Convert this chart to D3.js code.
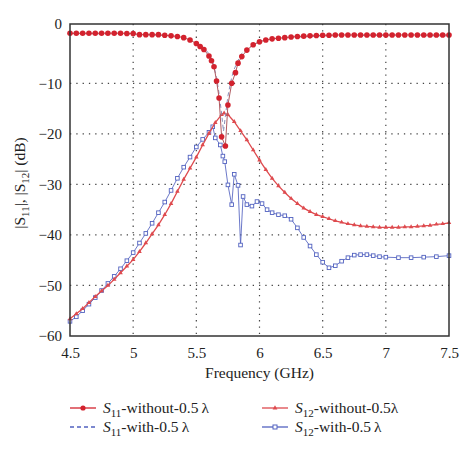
<!DOCTYPE html>
<html>
<head>
<meta charset="utf-8">
<script src="https://cdn.jsdelivr.net/npm/d3@7"></script>
<style>
  body { margin: 0; background: #fff; }
  svg text { font-family: "Liberation Serif", "DejaVu Serif", serif; fill: #222; }
</style>
</head>
<body>
<svg id="chart" width="474" height="451"></svg>
<script>
// tick labels
const xTicks = [4.5, 5, 5.5, 6, 6.5, 7, 7.5];
const yTicks = [0, -10, -20, -30, -40, -50, -60];

// S11 without 0.5 lambda
const s11WoFreq = [4.5, 4.55, 4.6, 4.65, 4.7, 4.75, 4.8, 4.85, 4.9, 4.95, 5.0, 5.05, 5.1, 5.15, 5.2, 5.25, 5.3, 5.35, 5.4, 5.45, 5.5, 5.53, 5.56, 5.6, 5.62, 5.64, 5.66, 5.68, 5.7, 5.73, 5.75, 5.78, 5.81, 5.83, 5.86, 5.9, 5.95, 6.0, 6.05, 6.1, 6.15, 6.2, 6.25, 6.3, 6.35, 6.4, 6.45, 6.5, 6.55, 6.6, 6.65, 6.7, 6.75, 6.8, 6.85, 6.9, 6.95, 7.0, 7.05, 7.1, 7.15, 7.2, 7.25, 7.3, 7.35, 7.4, 7.45, 7.5];
const s11WoVal = [-1.55, -1.55, -1.55, -1.55, -1.55, -1.55, -1.55, -1.55, -1.55, -1.6, -1.6, -1.8, -1.8, -1.8, -1.8, -1.9, -2.0, -2.1, -2.3, -2.7, -3.3, -3.8, -4.3, -5.4, -6.2, -7.2, -9.6, -12.9, -20.6, -22.4, -14.3, -10.0, -8.2, -6.6, -5.5, -4.4, -3.5, -3.0, -2.7, -2.5, -2.4, -2.3, -2.2, -2.1, -2.05, -2.0, -1.95, -1.9, -1.9, -1.85, -1.85, -1.85, -1.85, -1.85, -1.85, -1.85, -1.85, -1.85, -1.85, -1.85, -1.85, -1.85, -1.85, -1.85, -1.85, -1.85, -1.85, -1.85];

// S11 with 0.5 lambda
const s11WiFreq = [4.5, 5.0, 5.3, 5.4, 5.5, 5.55, 5.6, 5.63, 5.66, 5.68, 5.7, 5.715, 5.73, 5.75, 5.78, 5.8, 5.85, 5.9, 6.0, 6.2, 6.5, 7.0, 7.5];
const s11WiVal = [-1.6, -1.7, -2.0, -2.4, -3.2, -3.8, -5.0, -6.4, -9.0, -12.0, -16.0, -19.5, -16.5, -12.5, -9.0, -7.6, -5.2, -4.2, -2.9, -2.3, -2.0, -1.9, -2.0];

// S12 without 0.5 lambda
const s12WoFreq = [4.5, 4.55, 4.6, 4.65, 4.7, 4.75, 4.8, 4.85, 4.9, 4.95, 5.0, 5.05, 5.1, 5.15, 5.2, 5.25, 5.3, 5.35, 5.4, 5.45, 5.5, 5.55, 5.6, 5.65, 5.7, 5.72, 5.75, 5.8, 5.85, 5.9, 5.95, 6.0, 6.05, 6.1, 6.15, 6.2, 6.25, 6.3, 6.35, 6.4, 6.45, 6.5, 6.55, 6.6, 6.65, 6.7, 6.75, 6.8, 6.85, 6.9, 6.95, 7.0, 7.05, 7.1, 7.15, 7.2, 7.25, 7.3, 7.35, 7.4, 7.45, 7.5];
const s12WoVal = [-56.6, -55.6, -54.6, -53.4, -52.2, -51.1, -50.0, -48.8, -47.5, -46.2, -44.9, -43.3, -41.6, -39.8, -38.0, -36.0, -33.8, -31.4, -29.0, -26.8, -24.6, -22.2, -19.9, -17.8, -16.2, -15.9, -16.2, -17.6, -19.4, -21.2, -23.2, -25.2, -27.1, -28.8, -30.3, -31.6, -32.8, -33.8, -34.7, -35.4, -36.0, -36.4, -36.8, -37.2, -37.5, -37.8, -38.0, -38.2, -38.3, -38.4, -38.5, -38.5, -38.5, -38.5, -38.4, -38.4, -38.3, -38.2, -38.1, -37.9, -37.8, -37.6];

// S12 with 0.5 lambda
const s12WiFreq = [4.5, 4.55, 4.6, 4.65, 4.7, 4.75, 4.8, 4.85, 4.9, 4.95, 5.0, 5.05, 5.1, 5.15, 5.2, 5.25, 5.3, 5.35, 5.4, 5.45, 5.5, 5.55, 5.6, 5.63, 5.65, 5.69, 5.71, 5.725, 5.75, 5.78, 5.8, 5.83, 5.85, 5.87, 5.9, 5.94, 5.98, 6.02, 6.06, 6.1, 6.15, 6.2, 6.25, 6.3, 6.35, 6.4, 6.45, 6.5, 6.55, 6.6, 6.65, 6.7, 6.75, 6.8, 6.85, 6.9, 6.95, 7.0, 7.1, 7.2, 7.3, 7.4, 7.5];
const s12WiVal = [-57.1, -56.2, -55.0, -53.7, -52.4, -51.0, -49.6, -48.2, -46.7, -45.1, -43.5, -41.6, -39.7, -37.7, -35.6, -33.5, -31.2, -28.8, -26.6, -24.6, -22.6, -21.1, -19.7, -18.6, -20.8, -22.2, -24.4, -25.5, -30.1, -34.0, -28.0, -30.2, -42.0, -32.4, -34.0, -34.3, -33.4, -33.8, -35.0, -35.6, -36.0, -36.2, -36.9, -38.6, -40.5, -42.2, -43.9, -45.4, -46.5, -46.1, -45.2, -44.5, -44.0, -43.9, -43.9, -44.1, -44.3, -44.4, -44.5, -44.5, -44.4, -44.3, -44.1];

const svg = d3.select('#chart');
const margin = {top: 24, right: 25, bottom: 115, left: 70};
const W = 474, H = 451;

const x = d3.scaleLinear().domain([4.5, 7.5]).range([margin.left, W - margin.right]);
// the picture's 0..-10 band is a little taller than the rest
const y = d3.scaleLinear().domain([0, -10, -60]).range([margin.top, 83.3, H - margin.bottom]);

const red = '#d3222e';
const red2 = '#de4a4e';
const blue = '#5262c0';

// grid
const grid = svg.append('g');
grid.selectAll('.vg').data(xTicks.slice(1, -1)).enter().append('line')
  .attr('x1', d => x(d)).attr('x2', d => x(d))
  .attr('y1', y(0)).attr('y2', y(-60))
  .attr('stroke', '#444').attr('stroke-width', 1.2).attr('stroke-dasharray', '1.3,5');
grid.selectAll('.hg').data(yTicks.slice(1, -1)).enter().append('line')
  .attr('x1', x(4.5)).attr('x2', x(7.5))
  .attr('y1', d => y(d)).attr('y2', d => y(d))
  .attr('stroke', '#444').attr('stroke-width', 1.2).attr('stroke-dasharray', '1.3,5');

// axes (labels only, no tick marks)
const xAxis = svg.append('g')
  .attr('transform', 'translate(0,' + (H - margin.bottom) + ')')
  .call(d3.axisBottom(x).tickValues(xTicks).tickSize(0).tickPadding(11).tickFormat(d3.format('')));
const yAxis = svg.append('g')
  .attr('transform', 'translate(' + margin.left + ',0)')
  .call(d3.axisLeft(y).tickValues(yTicks).tickSize(0).tickPadding(8).tickFormat(d => d < 0 ? '\u2212' + Math.abs(d) : d));
[xAxis, yAxis].forEach(a => {
  a.select('.domain').remove();
  a.selectAll('text').style('font-family', '"Liberation Serif", serif').style('font-size', '15px').attr('fill', '#222');
});

const pts = (fs, vs) => fs.map((f, i) => ({f: f, v: vs[i]}));
const line = d3.line().x(d => x(d.f)).y(d => y(d.v));

const s11Wo = pts(s11WoFreq, s11WoVal);
const s11Wi = pts(s11WiFreq, s11WiVal);
const s12Wo = pts(s12WoFreq, s12WoVal);
const s12Wi = pts(s12WiFreq, s12WiVal);

const plot = svg.append('g');

// S12 with: blue line, open squares
plot.append('path').datum(s12Wi).attr('d', line)
  .attr('fill', 'none').attr('stroke', blue).attr('stroke-width', 1).attr('opacity', 0.85);
plot.selectAll('.sq').data(s12Wi).enter().append('rect')
  .attr('x', d => x(d.f) - 1.8).attr('y', d => y(d.v) - 1.8)
  .attr('width', 3.6).attr('height', 3.6)
  .attr('fill', 'white').attr('stroke', blue).attr('stroke-width', 0.9);

// S12 without: red line, small triangles
plot.append('path').datum(s12Wo).attr('d', line)
  .attr('fill', 'none').attr('stroke', red2).attr('stroke-width', 1.3);
plot.selectAll('.tri').data(s12Wo).enter().append('path')
  .attr('transform', d => 'translate(' + x(d.f) + ',' + y(d.v) + ')')
  .attr('d', d3.symbol().type(d3.symbolTriangle).size(9))
  .attr('fill', red2);

// S11 with: dashed line
plot.append('path').datum(s11Wi).attr('d', line)
  .attr('fill', 'none').attr('stroke', '#8a8fb8').attr('stroke-width', 1).attr('stroke-dasharray', '4,3');

// S11 without: thin line, filled circles
plot.append('path').datum(s11Wo).attr('d', line)
  .attr('fill', 'none').attr('stroke', '#b05a60').attr('stroke-width', 1);
plot.selectAll('.dot').data(s11Wo).enter().append('circle')
  .attr('cx', d => x(d.f)).attr('cy', d => y(d.v)).attr('r', 2.8)
  .attr('fill', red);

// frame
svg.append('rect')
  .attr('x', x(4.5)).attr('y', y(0))
  .attr('width', x(7.5) - x(4.5)).attr('height', y(-60) - y(0))
  .attr('fill', 'none').attr('stroke', '#333').attr('stroke-width', 1.5);

// axis titles
svg.append('text')
  .attr('x', (x(4.5) + x(7.5)) / 2).attr('y', 378)
  .attr('text-anchor', 'middle').style('font-size', '15.5px')
  .text('Frequency (GHz)');

const yl = svg.append('text')
  .attr('transform', 'translate(25,' + ((y(0) + y(-60)) / 2 + 3) + ') rotate(-90)')
  .attr('text-anchor', 'middle').style('font-size', '15.5px');
yl.append('tspan').text('|S');
yl.append('tspan').text('11').style('font-size', '11px').attr('dy', 4);
yl.append('tspan').text('|, |S').attr('dy', -4);
yl.append('tspan').text('12').style('font-size', '11px').attr('dy', 4);
yl.append('tspan').text('| (dB)').attr('dy', -4);

// legend
const legend = [
  {sub: '11', name: '-without-0.5\u2009\u03bb', col: 0, row: 0, color: red, mark: 'circle', dash: null},
  {sub: '11', name: '-with-0.5\u2009\u03bb', col: 0, row: 1, color: blue, mark: null, dash: '4,3'},
  {sub: '12', name: '-without-0.5\u03bb', col: 1, row: 0, color: red2, mark: 'tri', dash: null},
  {sub: '12', name: '-with-0.5\u2009\u03bb', col: 1, row: 1, color: blue, mark: 'square', dash: null}
];
const colX = [70, 262];
const rowY = [408, 427];
legend.forEach(l => {
  const g = svg.append('g').attr('transform', 'translate(' + colX[l.col] + ',' + rowY[l.row] + ')');
  g.append('line').attr('x1', 0).attr('x2', 26).attr('y1', 0).attr('y2', 0)
    .attr('stroke', l.color).attr('stroke-width', 1.3)
    .attr('stroke-dasharray', l.dash);
  if (l.mark === 'circle') g.append('circle').attr('cx', 13).attr('r', 2.6).attr('fill', l.color);
  if (l.mark === 'tri') g.append('path').attr('transform', 'translate(13,0)')
    .attr('d', d3.symbol().type(d3.symbolTriangle).size(10)).attr('fill', l.color);
  if (l.mark === 'square') g.append('rect').attr('x', 11).attr('y', -2).attr('width', 4).attr('height', 4)
    .attr('fill', 'white').attr('stroke', l.color).attr('stroke-width', 1);
  const t = g.append('text').attr('x', 33).attr('y', 5).style('font-size', '15.5px');
  t.append('tspan').text('S').style('font-style', 'italic');
  t.append('tspan').text(l.sub).style('font-size', '11px').attr('dy', 4);
  t.append('tspan').text(l.name).attr('dy', -4);
});
</script>
</body>
</html>
